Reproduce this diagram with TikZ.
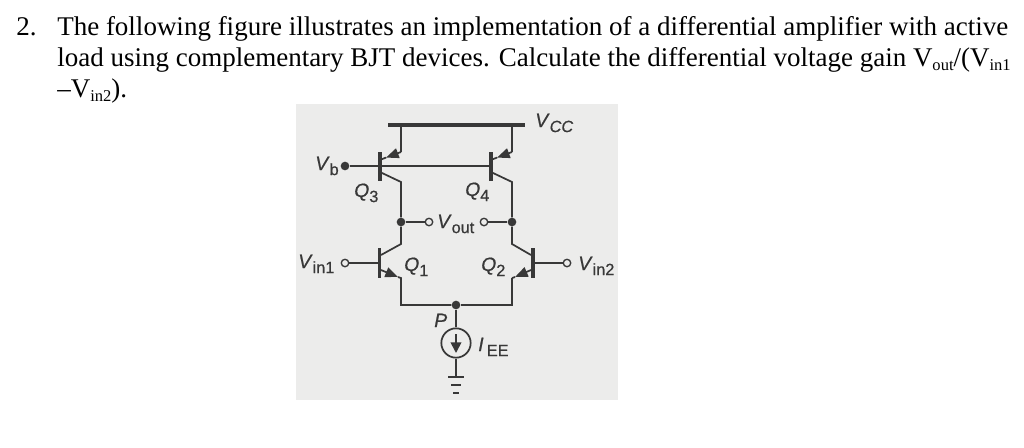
\documentclass[tikz,border=0pt]{standalone}
\usepackage{fontspec}
\setmainfont{Liberation Serif}
\newfontfamily\lab[FakeBold=0.6,ItalicFeatures={FakeBold=0.6}]{Liberation Sans}
\usetikzlibrary{arrows.meta}
\definecolor{panel}{HTML}{ECECEB}
\definecolor{ink}{HTML}{383838}
\tikzset{
  wire/.style={draw=ink,line width=1.3pt},
  rail/.style={draw=ink,line width=2.5pt},
  barb/.style={draw=ink,line width=2.5pt},
  gndbar/.style={draw=ink,line width=2pt},
  tip/.style={wire,-{Triangle[length=9.5pt,width=7.5pt]}},
  dot/.style={circle,fill=ink,draw=none,inner sep=0pt,minimum size=6.5pt},
  port/.style={circle,fill=panel,draw=ink,line width=1pt,inner sep=0pt,minimum size=5.6pt},
  para/.style={anchor=base west,inner sep=0pt,font=\fontsize{20.25pt}{22pt}\selectfont,text=black},
  lbl/.style={anchor=base west,inner sep=0pt,text=ink,font=\lab\fontsize{14.5pt}{16pt}\selectfont},
}
\newcommand{\sbs}[1]{{\fontsize{12.2pt}{13pt}\selectfont\raisebox{-3.8pt}{#1}}}
\newcommand{\tsb}[1]{{\fontsize{12.4pt}{13pt}\selectfont\raisebox{-3.4pt}{#1}}}
\begin{document}
\begin{tikzpicture}[x=0.75pt,y=-0.75pt]
\useasboundingbox (0,0) rectangle (1024,447);
\fill[white] (0,0) rectangle (1024,447);
\fill[panel] (296,104) rectangle (618,400);

% question text
\node[para] (num) at (16,35) {2.};
\node[para] (l1) at (57,35) {The following figure illustrates an implementation of a differential amplifier with active};
\node[para] (l2) at (57,66) {load using complementary BJT devices. Calculate the differential voltage gain V\tsb{out}/(V\tsb{in1}};
\node[para] (l3) at (57,97) {–V\tsb{in2}).};

% rail
\coordinate (railL) at (388,125);
\coordinate (railR) at (525,125);
\draw[rail] (railL) -- (railR);

% Q3 / Q4 coordinates
\coordinate (e3top) at (401,125);
\coordinate (e3) at (401,152);
\coordinate (t3) at (386,157.6);
\coordinate (be3) at (381,159.5);
\coordinate (bar3a) at (380,152);
\coordinate (bar3b) at (380,181);
\coordinate (cb3) at (381,172.5);
\coordinate (c3) at (401,182);
\coordinate (e4top) at (512,125);
\coordinate (e4) at (512,152);
\coordinate (t4) at (497,157.6);
\coordinate (be4) at (492,159.5);
\coordinate (bar4a) at (491,152);
\coordinate (bar4b) at (491,181);
\coordinate (cb4) at (492,172.5);
\coordinate (c4) at (512,182);
\coordinate (base4) at (491,166);

% Q1 / Q2 coordinates
\coordinate (bar1a) at (379.5,248);
\coordinate (bar1b) at (379.5,278);
\coordinate (base1) at (379.5,263);
\coordinate (cb1) at (381,255);
\coordinate (c1) at (401,244);
\coordinate (eb1) at (381,270);
\coordinate (t1) at (398,277);
\coordinate (e1) at (401,278);
\coordinate (bar2a) at (533,248);
\coordinate (bar2b) at (533,278);
\coordinate (base2) at (533,263);
\coordinate (cb2) at (531,255);
\coordinate (c2) at (512,244);
\coordinate (eb2) at (531,270);
\coordinate (t2) at (515,277);
\coordinate (e2) at (512,278);
\coordinate (tailL) at (401,305);
\coordinate (tailR) at (512,305);

% named points
\node[dot] (vb) at (345,166) {};
\node[dot] (n3) at (401,222) {};
\node[dot] (n4) at (512,222) {};
\node[port] (voutL) at (429,222) {};
\node[port] (voutR) at (484,222) {};
\node[port] (vin1) at (345,263) {};
\node[port] (vin2) at (567,263) {};
\node[dot] (p) at (456,305) {};
\node[circle,draw=ink,line width=1.3pt,minimum size=22pt,inner sep=0pt] (iee) at (456,343) {};
\coordinate (gnd) at (456,377);
\coordinate (arrT) at (456,334);
\coordinate (arrB) at (456,353);

% transistors
\draw[barb] (bar3a) -- (bar3b);
\draw[barb] (bar4a) -- (bar4b);
\draw[barb] (bar1a) -- (bar1b);
\draw[barb] (bar2a) -- (bar2b);

\draw[wire] (e3top) -- (e3);
\draw[tip] (e3) -- (t3);
\draw[wire] (t3) -- (be3);
\draw[wire] (e4top) -- (e4);
\draw[tip] (e4) -- (t4);
\draw[wire] (t4) -- (be4);
\draw[wire] (vb) -- (base4);
\draw[wire] (cb3) -- (c3) -- (n3);
\draw[wire] (cb4) -- (c4) -- (n4);
\draw[wire] (n3) -- (voutL);
\draw[wire] (n4) -- (voutR);
\draw[wire] (n3) -- (c1) -- (cb1);
\draw[wire] (n4) -- (c2) -- (cb2);
\draw[wire] (vin1) -- (base1);
\draw[wire] (vin2) -- (base2);
\draw[tip] (eb1) -- (t1);
\draw[wire] (t1) -- (e1) -- (tailL) -- (p);
\draw[wire] (e2) -- (tailR) -- (p);
\draw[tip] (eb2) -- (t2);
\draw[wire] (t2) -- (e2);
\draw[wire] (p) -- (iee);
\draw[wire] (iee) -- (gnd);
\draw[draw=ink,line width=1.3pt,-{Triangle[length=8pt,width=8pt]}] (arrT) -- (arrB);

% ground
\coordinate (g1a) at (448,377); \coordinate (g1b) at (464,377);
\coordinate (g2a) at (451,385); \coordinate (g2b) at (461,385);
\coordinate (g3a) at (453,393); \coordinate (g3b) at (459,393);
\draw[gndbar] (g1a) -- (g1b);
\draw[gndbar] (g2a) -- (g2b);
\draw[gndbar] (g3a) -- (g3b);

% labels
\node[lbl] (lVcc) at (535,127) {\textit{V}\sbs{\textit{CC}}};
\node[lbl] (lVb) at (315,170) {\textit{V}\sbs{b}};
\node[lbl] (lQ3) at (354,197) {\textit{Q}\sbs{3}};
\node[lbl] (lQ4) at (465,196) {\textit{Q}\sbs{4}};
\node[lbl] (lVout) at (437,228) {\textit{V}\sbs{out}};
\node[lbl] (lVin1) at (298,268) {\textit{V}\sbs{in1}};
\node[lbl] (lQ1) at (404,271) {\textit{Q}\sbs{1}};
\node[lbl] (lQ2) at (481,271) {\textit{Q}\sbs{2}};
\node[lbl] (lVin2) at (578,270) {\textit{V}\sbs{in2}};
\node[lbl] (lP) at (434,327) {\textit{P}};
\node[lbl] (lIEE) at (478,351) {\textit{I}\,\sbs{EE}};
\end{tikzpicture}
\end{document}
